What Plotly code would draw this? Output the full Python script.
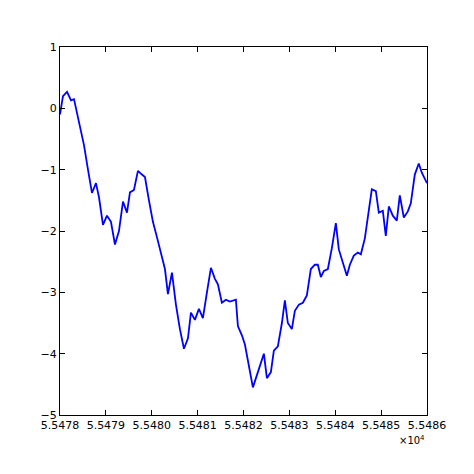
import plotly.graph_objects as go

x_vals = [55478.000, 55478.065, 55478.153, 55478.240, 55478.305, 55478.392, 55478.523, 55478.610,
          55478.697, 55478.784, 55478.850, 55478.937, 55479.024, 55479.111, 55479.198, 55479.285,
          55479.373, 55479.460, 55479.525, 55479.612, 55479.699, 55479.786, 55479.852, 55479.939,
          55480.026, 55480.113, 55480.200, 55480.288, 55480.353, 55480.440, 55480.527, 55480.614,
          55480.702, 55480.789, 55480.854, 55480.941, 55481.028, 55481.115, 55481.203, 55481.290,
          55481.377, 55481.442, 55481.529, 55481.617, 55481.704, 55481.769, 55481.834, 55481.878,
          55481.965, 55482.031, 55482.118, 55482.205, 55482.292, 55482.379, 55482.444, 55482.510,
          55482.597, 55482.662, 55482.749, 55482.837, 55482.902, 55482.967, 55483.054, 55483.120,
          55483.207, 55483.294, 55483.381, 55483.468, 55483.556, 55483.621, 55483.686, 55483.752,
          55483.839, 55483.926, 55484.013, 55484.078, 55484.166, 55484.253, 55484.318, 55484.405,
          55484.492, 55484.558, 55484.645, 55484.710, 55484.797, 55484.885, 55484.950, 55485.037,
          55485.102, 55485.168, 55485.255, 55485.342, 55485.407, 55485.495, 55485.582, 55485.647,
          55485.734, 55485.821, 55485.887, 55486.000]
y_vals = [-0.1, 0.2, 0.27, 0.13, 0.15, -0.15, -0.6, -1.0,
          -1.38, -1.22, -1.45, -1.9, -1.75, -1.85, -2.22, -2.0,
          -1.52, -1.7, -1.37, -1.33, -1.02, -1.08, -1.12, -1.5,
          -1.85, -2.1, -2.35, -2.62, -3.03, -2.68, -3.2, -3.6,
          -3.92, -3.75, -3.33, -3.45, -3.27, -3.42, -3.0, -2.6,
          -2.78, -2.87, -3.17, -3.12, -3.15, -3.13, -3.12, -3.55,
          -3.7, -3.85, -4.2, -4.55, -4.35, -4.15, -4.0, -4.4,
          -4.3, -3.95, -3.88, -3.5, -3.13, -3.5, -3.6, -3.3,
          -3.2, -3.17, -3.05, -2.62, -2.55, -2.55, -2.75, -2.65,
          -2.62, -2.28, -1.87, -2.3, -2.5, -2.73, -2.55, -2.4,
          -2.35, -2.38, -2.12, -1.78, -1.32, -1.35, -1.7, -1.67,
          -2.08, -1.6, -1.75, -1.83, -1.42, -1.78, -1.68, -1.55,
          -1.08, -0.9, -1.05, -1.22]

x_ticks = [55478, 55479, 55480, 55481, 55482, 55483, 55484, 55485, 55486]
x_labels = ['5.5478', '5.5479', '5.5480', '5.5481', '5.5482', '5.5483', '5.5484', '5.5485', '5.5486']
y_ticks = [-5, -4, -3, -2, -1, 0, 1]

fig = go.Figure(go.Scatter(x=x_vals, y=y_vals, mode='lines',
                           line=dict(color='#0000ff', width=1.8)))

axis_style = dict(showgrid=False, zeroline=False, showline=True, linecolor='black',
                  linewidth=1, mirror='allticks', ticks='inside', ticklen=5,
                  tickcolor='black', tickfont=dict(size=11, color='black'))

fig.update_layout(
    width=474, height=474,
    margin=dict(l=52, r=55, t=39, b=67),
    paper_bgcolor='white', plot_bgcolor='white',
    font=dict(family='DejaVu Sans', color='black'),
    showlegend=False,
    xaxis=dict(range=[55478, 55486], tickvals=x_ticks, ticktext=x_labels, **axis_style),
    yaxis=dict(range=[-5, 1], tickvals=y_ticks, **axis_style),
)
fig.add_annotation(text='×10<sup>4</sup>', xref='paper', yref='paper', x=1, y=-0.045,
                   xanchor='right', yanchor='top', showarrow=False, font=dict(size=10))
fig.write_html('out.html')
